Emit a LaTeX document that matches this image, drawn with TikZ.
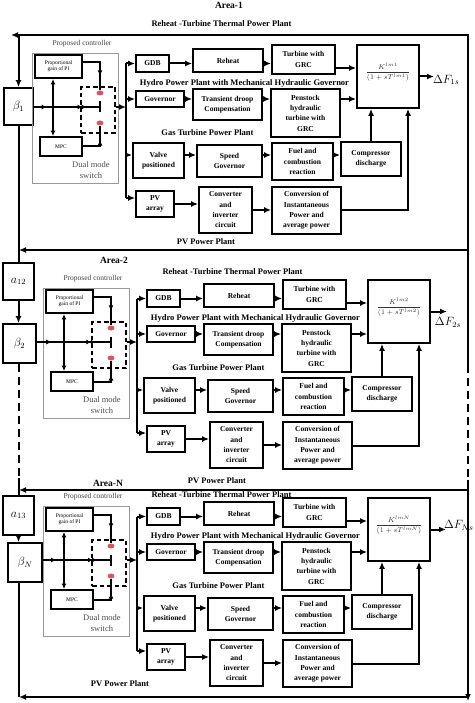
\documentclass[tikz,border=0pt]{standalone}
\usepackage{amsmath}
\usepackage{fontspec}
\setmainfont{Liberation Serif}
\usepackage{tikz}
\usetikzlibrary{positioning}
\usetikzlibrary{arrows.meta}
\usetikzlibrary{decorations.markings}
\usetikzlibrary{shapes.geometric}
\definecolor{swred}{RGB}{212,86,98}
\tikzset{
    blk/.style = {draw, line width=1.8pt, align=center, inner sep=1pt,
        font=\bfseries\fontsize{7.5}{10.3}\selectfont},
    smallblk/.style = {draw, line width=1.8pt, align=center, inner sep=0.5pt,
        font=\fontsize{5.5}{6.3}\selectfont},
    varblk/.style = {draw, line width=1.8pt, inner sep=0pt,
        font=\fontsize{11.5}{12}\selectfont},
    ctrlbox/.style = {draw=black!40, line width=0.6pt},
    swbox/.style = {draw, line width=1.4pt, dash pattern=on 4.5pt off 3pt},
    swdot/.style = {ellipse, fill=swred, inner sep=0pt,
        minimum width=7pt, minimum height=5pt},
    sect/.style = {inner sep=0pt, font=\bfseries\fontsize{8.5}{10}\selectfont},
    arealab/.style = {inner sep=0pt, font=\bfseries\fontsize{9.5}{11}\selectfont},
    ctrltxt/.style = {inner sep=0pt, text=black!75, font=\fontsize{7.5}{9}\selectfont},
    swtxt/.style = {inner sep=0pt, align=center, text=black!70,
        font=\fontsize{8.5}{11}\selectfont},
    ktxt/.style = {inner sep=0pt, text=black!80, font=\fontsize{7}{8}\selectfont},
    dflab/.style = {inner sep=0pt, font=\fontsize{12}{14}\selectfont},
    wire/.style = {line width=2pt},
    arr/.style = {line width=2pt, -{Latex[length=7pt,width=6pt]}},
    dblarr/.style = {line width=2pt,
        {Latex[length=5.5pt,width=5pt]}-{Latex[length=5.5pt,width=5pt]}},
    dashwire/.style = {line width=2pt, dash pattern=on 8pt off 5pt},
    outarr/.style = {postaction={decorate}, decoration={markings,
        mark=at position #1 with {\arrow{Latex[length=5.5pt,width=5pt]}}}},
    inarr/.style = {postaction={decorate}, decoration={markings,
        mark=at position 0.2 with {\arrow{Latex[length=5.5pt,width=5pt]}},
        mark=at position 0.73 with {\arrow{Latex[length=4.5pt,width=5pt]}},
        mark=at position 0.79 with {\arrow{Latex[length=4.5pt,width=5pt]}}}}
}

\begin{document}
\begin{tikzpicture}[x=1pt, y=-1pt]
    \useasboundingbox (0,0) rectangle (474,703);
    % bias and tie-line blocks on the left
    \node [varblk, minimum width=29pt, minimum height=37pt] (b1) at (18.5,106.5) {$\beta_1$};
    \node [varblk, minimum width=31pt, minimum height=37pt] (a12) at (18.5,281.5) {$a_{12}$};
    \node [varblk, minimum width=33pt, minimum height=39pt] (b2) at (19.5,343.5) {$\beta_2$};
    \node [varblk, minimum width=31pt, minimum height=39pt] (a13) at (18.5,515.5) {$a_{13}$};
    \node [varblk, minimum width=34pt, minimum height=39pt] (bN) at (25,562.5) {$\beta_N$};

    % one block per area
    \foreach \sfx/\dx/\dy/\bet in {1/0/0/b1, 2/11/235/b2, N/11/453/bN} {
    \begin{scope}[shift={(\dx,\dy)}]
        % proposed controller
        \node [ctrlbox, minimum width=86pt, minimum height=130pt] (ctrl\sfx) at (75,118) {};
        \node [ctrltxt] (pct\sfx) at (82,44) {Proposed controller};
        \node [smallblk, minimum width=47pt, minimum height=23pt] (pi\sfx) at (58.5,66.5) {Proportional\\gain of PI};
        \node [smallblk, minimum width=42pt, minimum height=19pt] (mpc\sfx) at (61,146.5) {MPC};
        \node [swbox, minimum width=34pt, minimum height=46pt] (sw\sfx) at (98,110) {};
        \node [swtxt] (dms\sfx) at (91,170.5) {Dual mode\\switch};
        \node [swdot] (dt\sfx) at (100,93) {};
        \node [swdot] (db\sfx) at (100,123) {};
        \coordinate (cut\sfx) at (100,107);
        \coordinate (dv\sfx) at (53,107);
        \coordinate (bus\sfx) at (126,107);
        \coordinate (gasrow\sfx) at (0,155);
        \coordinate (pvrow\sfx) at (0,198);
        % power plants
        \node [blk, minimum width=33pt, minimum height=17pt] (gdb\sfx) at (152.5,63.5) {GDB};
        \node [blk, minimum width=70pt, minimum height=23pt] (reheat\sfx) at (228,60.5) {Reheat};
        \node [blk, minimum width=63pt, minimum height=29pt] (turb\sfx) at (303.5,59.5) {Turbine with\\GRC};
        \node [blk, minimum width=48pt, minimum height=16pt] (gov\sfx) at (160,99) {Governor};
        \node [blk, minimum width=69pt, minimum height=31pt] (trans\sfx) at (227.5,104.5) {Transient droop\\Compensation};
        \node [blk, minimum width=69pt, minimum height=48pt] (pen\sfx) at (305.5,113) {Penstock\\hydraulic\\turbine with\\GRC};
        \node [blk, minimum width=51pt, minimum height=35pt] (valve\sfx) at (158.5,160.5) {Valve\\positioned};
        \node [blk, minimum width=65pt, minimum height=32pt] (speed\sfx) at (229.5,161) {Speed\\Governor};
        \node [blk, minimum width=61pt, minimum height=37pt] (fuel\sfx) at (302.5,161.5) {Fuel and\\combustion\\reaction};
        \node [blk, minimum width=60pt, minimum height=34pt] (comp\sfx) at (371,159) {Compressor\\discharge};
        \node [blk, minimum width=38pt, minimum height=26pt] (pv\sfx) at (155,204) {PV\\array};
        \node [blk, minimum width=53pt, minimum height=46pt] (conv\sfx) at (225.5,210) {Converter\\and\\inverter\\circuit};
        \node [blk, minimum width=69pt, minimum height=47pt] (inst\sfx) at (306.5,210.5) {Conversion of\\Instantaneous\\Power and\\average power};
        \node [blk, minimum width=62pt, minimum height=63pt] (k\sfx) at (388,76.5) {};
        \node [ktxt] (kf\sfx) at (388,72) {$\displaystyle\frac{K^{lm\sfx}}{(1+sT^{lm\sfx})}$};
        \node [sect] (hyd\sfx) at (244.5,83) {Hydro Power Plant with Mechanical Hydraulic Governor};
        \node [sect] (gas\sfx) at (207.5,133) {Gas Turbine Power Plant};
        % controller wiring
        \draw [wire, inarr] (\bet.east |- cut\sfx) -- (cut\sfx);
        \draw [wire] ([yshift=5.5pt]cut\sfx) -- ([yshift=-5.5pt]cut\sfx);
        \draw [dblarr] (pi\sfx.south -| dv\sfx) -- (mpc\sfx.north -| dv\sfx);
        \draw [wire, outarr=0.68] ([yshift=4.5pt]pi\sfx.east) -| (dt\sfx);
        \draw [wire, outarr=0.62] (mpc\sfx.east) -| (db\sfx);
        \draw [arr] (cut\sfx -| sw\sfx.east) -- (bus\sfx);
        % plant wiring
        \draw [wire] (bus\sfx |- gdb\sfx.west) -- (bus\sfx |- pvrow\sfx);
        \draw [arr] (bus\sfx |- gdb\sfx.west) -- (gdb\sfx.west);
        \draw [arr] (bus\sfx |- gov\sfx.west) -- (gov\sfx.west);
        \draw [arr] (bus\sfx |- gasrow\sfx) -- (valve\sfx.west |- gasrow\sfx);
        \draw [arr] (bus\sfx |- pvrow\sfx) -- (pv\sfx.west |- pvrow\sfx);
        \draw [arr] (gdb\sfx.east) -- (gdb\sfx.east -| reheat\sfx.west);
        \draw [arr] (gdb\sfx.east -| reheat\sfx.east) -- (gdb\sfx.east -| turb\sfx.west);
        \draw [arr] ([yshift=-8.5pt]turb\sfx.east) -- ([yshift=-8.5pt]turb\sfx.east -| k\sfx.west);
        \draw [arr] (gov\sfx.east) -- (gov\sfx.east -| trans\sfx.west);
        \draw [arr] (gov\sfx.east -| trans\sfx.east) -- (gov\sfx.east -| pen\sfx.west);
        \draw [arr] (gov\sfx.east -| pen\sfx.east) -- (gov\sfx.east -| k\sfx.west);
        \draw [arr] (valve\sfx.east |- gasrow\sfx) -- (speed\sfx.west |- gasrow\sfx);
        \draw [arr] (speed\sfx.east |- gasrow\sfx) -- (fuel\sfx.west |- gasrow\sfx);
        \draw [arr] (fuel\sfx.east |- gasrow\sfx) -- (comp\sfx.west |- gasrow\sfx);
        \draw [arr] (comp\sfx.north) -- (comp\sfx.north |- k\sfx.south);
        \draw [arr] (pv\sfx.east) -- (pv\sfx.east -| conv\sfx.west);
        \draw [arr] (conv\sfx.east) -- (conv\sfx.east -| inst\sfx.west);
        \draw [arr] (inst\sfx.east) -| ([xshift=20pt]k\sfx.south);
    \end{scope}
    }

    % titles of each area
    \node [arealab] (ar1) at (229,5.5) {Area-1};
    \node [arealab] (ar2) at (114,260) {Area-2};
    \node [arealab] (arN) at (108,483) {Area-N};
    \node [sect] (rh1) at (221.5,24) {Reheat -Turbine Thermal Power Plant};
    \node [sect] (rh2) at (232.5,272) {Reheat -Turbine Thermal Power Plant};
    \node [sect] (rhN) at (221.5,494.5) {Reheat -Turbine Thermal Power Plant};
    \node [sect] (pvp1) at (206,242) {PV Power Plant};
    \node [sect] (pvp2) at (217,481) {PV Power Plant};
    \node [sect] (pvpN) at (120,684) {PV Power Plant};

    % frequency deviations
    \node [dflab, anchor=west] (dF1) at (433,80) {$\Delta F_{1s}$};
    \node [dflab] (dF2) at (448,322) {$\Delta F_{2s}$};
    \node [dflab, anchor=west] (dFN) at (444,525) {$\Delta F_{Ns}$};
    \coordinate (dfo1) at (434,76.5);
    \coordinate (dfo2) at (447,311.5);
    \coordinate (dfoN) at (446,529.5);
    \draw [arr] (k1.east) -- (dfo1);
    \draw [arr] (k2.east) -- (dfo2);
    \draw [arr] (kN.east) -- (dfoN);

    % outer loop
    \coordinate (tr) at (468,35);
    \coordinate (tl) at (11,35);
    \coordinate (rd1) at (468,365);
    \coordinate (rd2) at (468,480);
    \coordinate (br) at (468,701);
    \coordinate (a2r) at (468,250);
    \coordinate (a2l) at (19,250);
    \coordinate (aNr) at (468,490);
    \coordinate (aNl) at (19,490);
    \coordinate (bbr) at (468,697);
    \coordinate (bbl) at (19,697);
    \coordinate (ld) at (18.5,478);
    \draw [arr] (rd1) -- (tr) -- (tl);
    \draw [arr] (b1.north |- tl) -- (b1.north);
    \draw [dashwire] (rd1) -- (rd2);
    \draw [arr] (rd2) -- (br);
    \draw [arr] (a2r) -- (a2l);
    \draw [arr] (aNr) -- (aNl);
    \draw [arr] (bbr) -- (bbl);
    \draw [wire] (b1.south) -- (a12.north);
    \draw [arr] (a12.south) -- (a12.south |- b2.north);
    \draw [dashwire] (b2.south -| a12.south) -- (ld);
    \draw [wire] (ld) -- (a13.north);
    \draw [arr] (a13.south) -- (a13.south |- bN.north);
    \draw [wire] (bN.south -| a13.south) -- (a13.south |- bbl);
\end{tikzpicture}
\end{document}
